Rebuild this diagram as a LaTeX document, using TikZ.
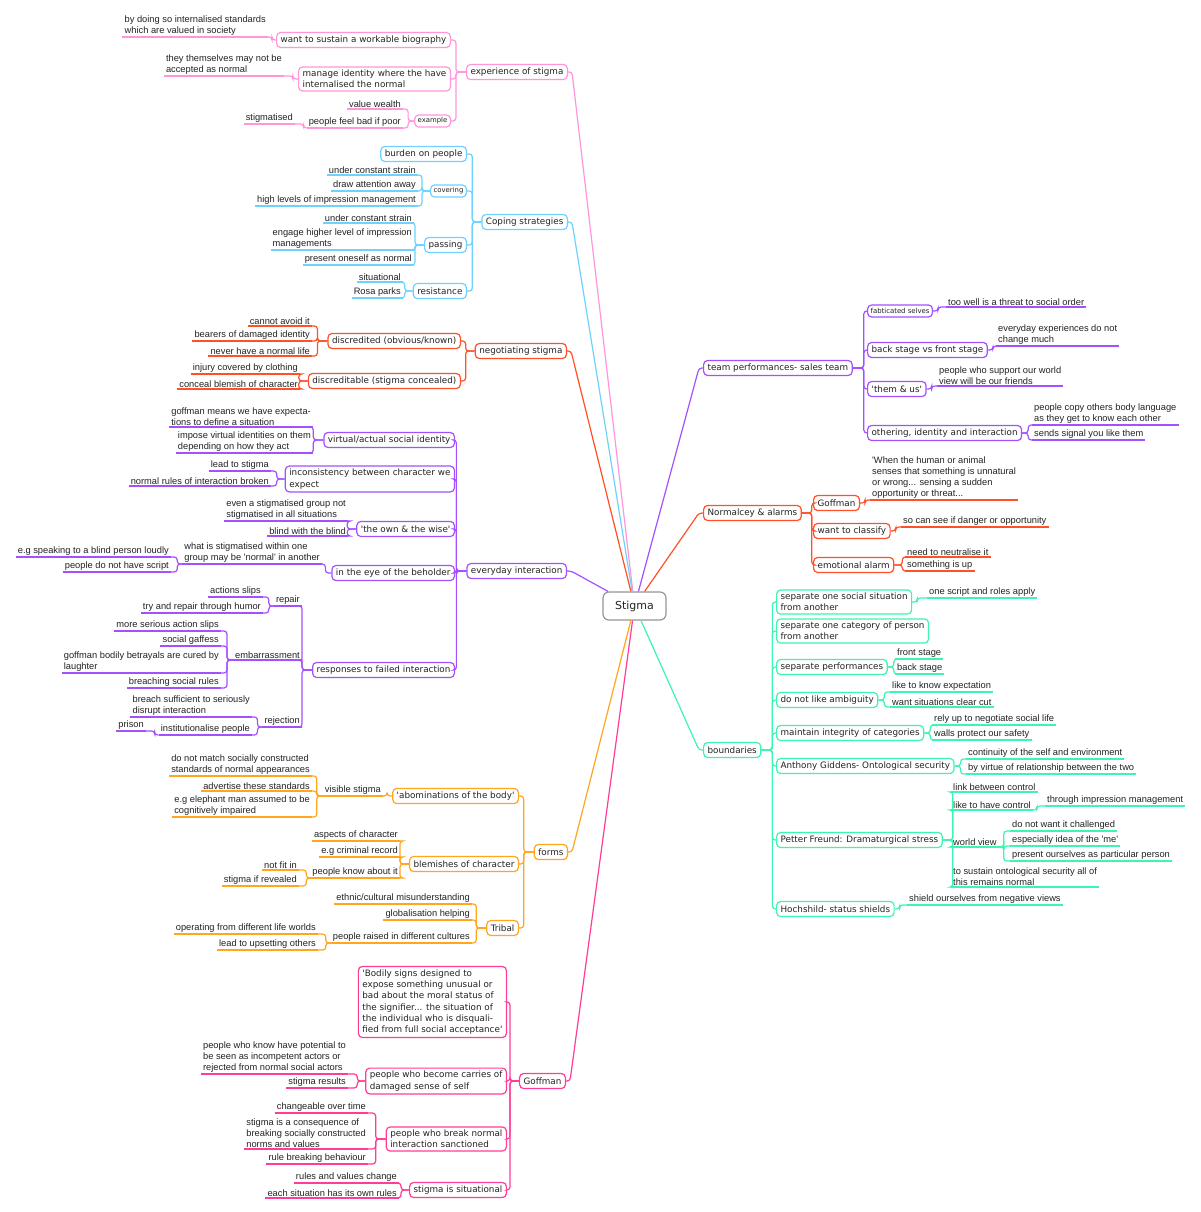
\documentclass[tikz,border=0pt]{standalone}
\usepackage{fontspec}
\newfontfamily\boxfont{DejaVu Sans}
\newfontfamily\leaffont{Liberation Sans}
\usepackage{xcolor}
\definecolor{mmpink}{RGB}{255,150,220}
\definecolor{mmblue}{RGB}{110,210,255}
\definecolor{mmred}{RGB}{255,80,40}
\definecolor{mmviolet}{RGB}{165,80,255}
\definecolor{mmorange}{RGB}{255,165,30}
\definecolor{mmmagenta}{RGB}{255,60,150}
\definecolor{mmgreen}{RGB}{60,245,175}
\definecolor{mmgray}{RGB}{150,150,150}
\definecolor{mmtext}{RGB}{35,35,35}
\tikzset{
  topic/.style={draw=#1, fill=white, line width=1.2pt, rounded corners=4pt, text=mmtext,
    font=\boxfont\fontsize{8.8pt}{11.3pt}\selectfont, align=left,
    inner xsep=4pt, inner ysep=3pt, minimum height=15pt},
  smalltopic/.style={topic=#1, font=\boxfont\fontsize{6.9pt}{9pt}\selectfont,
    inner xsep=3pt, inner ysep=2pt, minimum height=12pt},
  leaf/.style={font=\leaffont\fontsize{9.3pt}{10.8pt}\selectfont, text=mmtext, align=left,
    inner xsep=2pt, inner ysep=1.5pt,
    append after command={(\tikzlastnode.south west) edge[draw=#1, line width=1.2pt] (\tikzlastnode.south east)}},
  link/.style={draw=#1, line width=1.2pt, rounded corners=3pt},
}

\begin{document}
\begin{tikzpicture}[x=1pt,y=-1pt]
  % Canvas
  \fill[white] (0,0) rectangle (1200,1212);

  % Centre
  \node[draw=mmgray, fill=white, line width=1.2pt, rounded corners=6pt, minimum width=63pt,
    minimum height=28pt, text=mmtext, font=\boxfont\fontsize{11pt}{12pt}\selectfont] (stigma) at (634.5,606) {Stigma};

  % Experience of stigma
  \node[topic=mmpink, anchor=east] (exp) at (568,72) {experience of stigma};
  \node[topic=mmpink, anchor=east] (exp1) at (451,40) {want to sustain a workable biography};
  \node[topic=mmpink, anchor=east] (exp2) at (451,79) {manage identity where the have\\internalised the normal};
  \node[smalltopic=mmpink, anchor=east] (exp3) at (451,121) {example};
  \node[leaf=mmpink, anchor=south east] (exp1a) at (268,37) {by doing so internalised standards\\which are valued in society};
  \node[leaf=mmpink, anchor=south east] (exp2a) at (284,76) {they themselves may not be\\accepted as normal};
  \node[leaf=mmpink, anchor=south east] (exp3a) at (403,109) {value wealth};
  \node[leaf=mmpink, anchor=south east] (exp3b) at (403,128) {people feel bad if poor};
  \node[leaf=mmpink, anchor=south east] (exp3c) at (295,124) {stigmatised};
  \foreach \c in {exp1.east,exp2.east,exp3.east}
    \draw[link=mmpink] (exp.west) -- ++(-10,0) |- (\c);
  \draw[link=mmpink] (exp1.west) -- ++(-4,0) |- (exp1a.south east);
  \draw[link=mmpink] (exp2.west) -- ++(-5,0) |- (exp2a.south east);
  \foreach \c in {exp3a,exp3b}
    \draw[link=mmpink] (exp3.west) -- ++(-6,0) |- (\c.south east);
  \draw[link=mmpink] (exp3b.south west) -- ++(-3,0) |- (exp3c.south east);
  \draw[link=mmpink] (exp.east) -- ++(4,0) -- (stigma);

  % Coping strategies
  \node[topic=mmblue, anchor=east] (cope) at (568,222) {Coping strategies};
  \node[topic=mmblue, anchor=east] (cope1) at (467,154) {burden on people};
  \node[smalltopic=mmblue, anchor=east] (cope2) at (467,191) {covering};
  \node[topic=mmblue, anchor=east] (cope3) at (467,245) {passing};
  \node[topic=mmblue, anchor=east] (cope4) at (467,291) {resistance};
  \node[leaf=mmblue, anchor=south east] (cope2a) at (418,175) {under constant strain};
  \node[leaf=mmblue, anchor=south east] (cope2b) at (418,191) {draw attention away};
  \node[leaf=mmblue, anchor=south east] (cope2c) at (418,206) {high levels of impression management};
  \node[leaf=mmblue, anchor=south east] (cope3a) at (414,223) {under constant strain};
  \node[leaf=mmblue, anchor=south east] (cope3b) at (414,250) {engage higher level of impression\\managements};
  \node[leaf=mmblue, anchor=south east] (cope3c) at (414,265) {present oneself as normal};
  \node[leaf=mmblue, anchor=south east] (cope4a) at (403,282) {situational};
  \node[leaf=mmblue, anchor=south east] (cope4b) at (403,298) {Rosa parks};
  \foreach \c in {cope1,cope2,cope3,cope4}
    \draw[link=mmblue] (cope.west) -- ++(-9,0) |- (\c.east);
  \foreach \c in {cope2a,cope2b,cope2c}
    \draw[link=mmblue] (cope2.west) -- ++(-8,0) |- (\c.south east);
  \foreach \c in {cope3a,cope3b,cope3c}
    \draw[link=mmblue] (cope3.west) -- ++(-9,0) |- (\c.south east);
  \foreach \c in {cope4a,cope4b}
    \draw[link=mmblue] (cope4.west) -- ++(-8,0) |- (\c.south east);
  \draw[link=mmblue] (cope.east) -- ++(4,0) -- (stigma);

  % Negotiating stigma
  \node[topic=mmred, anchor=east] (nego) at (567,351) {negotiating stigma};
  \node[topic=mmred, anchor=east] (nego1) at (461,341) {discredited (obvious/known)};
  \node[topic=mmred, anchor=east] (nego2) at (461,381) {discreditable (stigma concealed)};
  \node[leaf=mmred, anchor=south east] (nego1a) at (312,326) {cannot avoid it};
  \node[leaf=mmred, anchor=south east] (nego1b) at (312,341) {bearers of damaged identity};
  \node[leaf=mmred, anchor=south east] (nego1c) at (312,356) {never have a normal life};
  \node[leaf=mmred, anchor=south east] (nego2a) at (300,374) {injury covered by clothing};
  \node[leaf=mmred, anchor=south east] (nego2b) at (300,389) {conceal blemish of character};
  \foreach \c in {nego1,nego2}
    \draw[link=mmred] (nego.west) -- ++(-9,0) |- (\c.east);
  \foreach \c in {nego1a,nego1b,nego1c}
    \draw[link=mmred] (nego1.west) -- ++(-10,0) |- (\c.south east);
  \foreach \c in {nego2a,nego2b}
    \draw[link=mmred] (nego2.west) -- ++(-9,0) |- (\c.south east);
  \draw[link=mmred] (nego.east) -- ++(4,0) -- (stigma);

  % Everyday interaction
  \node[topic=mmviolet, anchor=east] (every) at (567,571) {everyday interaction};
  \node[topic=mmviolet, anchor=east] (every1) at (455,440) {virtual/actual social identity};
  \node[topic=mmviolet, anchor=east] (every2) at (455,479) {inconsistency between character we\\expect};
  \node[topic=mmviolet, anchor=east] (every3) at (455,529) {'the own \& the wise'};
  \node[topic=mmviolet, anchor=east] (every4) at (455,573) {in the eye of the beholder};
  \node[topic=mmviolet, anchor=east] (every5) at (455,670) {responses to failed interaction};
  \node[leaf=mmviolet, anchor=south east] (every1a) at (313,427) {goffman means we have expecta-\\tions to define a situation};
  \node[leaf=mmviolet, anchor=south east] (every1b) at (313,453) {impose virtual identities on them\\depending on how they act};
  \node[leaf=mmviolet, anchor=south east] (every2a) at (271,471) {lead to stigma};
  \node[leaf=mmviolet, anchor=south east] (every2b) at (271,486) {normal rules of interaction broken};
  \node[leaf=mmviolet, anchor=south east] (every3a) at (348,521) {even a stigmatised group not\\stigmatised in all situations};
  \node[leaf=mmviolet, anchor=south east] (every3b) at (348,536) {blind with the blind};
  \node[leaf=mmviolet, anchor=south east] (every4a) at (322,564) {what is stigmatised within one\\group may be 'normal' in another};
  \node[leaf=mmviolet, anchor=south east] (every4b) at (171,557) {e.g speaking to a blind person loudly};
  \node[leaf=mmviolet, anchor=south east] (every4c) at (171,572) {people do not have script};
  \node[leaf=mmviolet, anchor=south east] (rep) at (302,606) {repair};
  \node[leaf=mmviolet, anchor=south east] (emb) at (302,660) {embarrassment};
  \node[leaf=mmviolet, anchor=south east] (rej) at (302,727) {rejection};
  \node[leaf=mmviolet, anchor=south east] (rep1) at (263,597) {actions slips};
  \node[leaf=mmviolet, anchor=south east] (rep2) at (263,613) {try and repair through humor};
  \node[leaf=mmviolet, anchor=south east] (emb1) at (221,631) {more serious action slips};
  \node[leaf=mmviolet, anchor=south east] (emb2) at (221,646) {social gaffess};
  \node[leaf=mmviolet, anchor=south east] (emb3) at (221,673) {goffman bodily betrayals are cured by\\laughter};
  \node[leaf=mmviolet, anchor=south east] (emb4) at (221,688) {breaching social rules};
  \node[leaf=mmviolet, anchor=south east] (rej1) at (252,717) {breach sufficient to seriously\\disrupt interaction};
  \node[leaf=mmviolet, anchor=south east] (rej2) at (252,735) {institutionalise people};
  \node[leaf=mmviolet, anchor=south east] (rej2a) at (146,731) {prison};
  \foreach \c in {every1,every2,every3,every4,every5}
    \draw[link=mmviolet] (every.west) -- ++(-10,0) |- (\c.east);
  \foreach \c in {every1a,every1b}
    \draw[link=mmviolet] (every1.west) -- ++(-10,0) |- (\c.south east);
  \foreach \c in {every2a,every2b}
    \draw[link=mmviolet] (every2.west) -- ++(-8,0) |- (\c.south east);
  \foreach \c in {every3a,every3b}
    \draw[link=mmviolet] (every3.west) -- ++(-9,0) |- (\c.south east);
  \draw[link=mmviolet] (every4.west) -- ++(-6,0) |- (every4a.south east);
  \foreach \c in {every4b,every4c}
    \draw[link=mmviolet] (every4a.south west) -- ++(-5,0) |- (\c.south east);
  \foreach \c in {rep,emb,rej}
    \draw[link=mmviolet] (every5.west) -- ++(-10,0) |- (\c.south east);
  \foreach \c in {rep1,rep2}
    \draw[link=mmviolet] (rep.south west) -- ++(-5,0) |- (\c.south east);
  \foreach \c in {emb1,emb2,emb3,emb4}
    \draw[link=mmviolet] (emb.south west) -- ++(-6,0) |- (\c.south east);
  \foreach \c in {rej1,rej2}
    \draw[link=mmviolet] (rej.south west) -- ++(-5,0) |- (\c.south east);
  \draw[link=mmviolet] (rej2.south west) -- ++(-4,0) |- (rej2a.south east);
  \draw[link=mmviolet] (every.east) -- ++(4,0) -- (stigma);

  % Forms
  \node[topic=mmorange, anchor=east] (forms) at (568,852) {forms};
  \node[topic=mmorange, anchor=east] (forms1) at (519,796) {'abominations of the body'};
  \node[topic=mmorange, anchor=east] (forms2) at (519,864) {blemishes of character};
  \node[topic=mmorange, anchor=east] (forms3) at (519,928) {Tribal};
  \node[leaf=mmorange, anchor=south east] (vis) at (383,796) {visible stigma};
  \node[leaf=mmorange, anchor=south east] (vis1) at (312,776) {do not match socially constructed\\standards of normal appearances};
  \node[leaf=mmorange, anchor=south east] (vis2) at (312,791) {advertise these standards};
  \node[leaf=mmorange, anchor=south east] (vis3) at (312,817) {e.g elephant man assumed to be\\cognitively impaired};
  \node[leaf=mmorange, anchor=south east] (blem1) at (400,841) {aspects of character};
  \node[leaf=mmorange, anchor=south east] (blem2) at (400,857) {e.g criminal record};
  \node[leaf=mmorange, anchor=south east] (blem3) at (400,878) {people know about it};
  \node[leaf=mmorange, anchor=south east] (blem3a) at (299,870) {not fit in};
  \node[leaf=mmorange, anchor=south east] (blem3b) at (299,886) {stigma if revealed};
  \node[leaf=mmorange, anchor=south east] (trib1) at (472,904) {ethnic/cultural misunderstanding};
  \node[leaf=mmorange, anchor=south east] (trib2) at (472,920) {globalisation helping};
  \node[leaf=mmorange, anchor=south east] (trib3) at (472,943) {people raised in different cultures};
  \node[leaf=mmorange, anchor=south east] (trib3a) at (318,934) {operating from different life worlds};
  \node[leaf=mmorange, anchor=south east] (trib3b) at (318,950) {lead to upsetting others};
  \foreach \c in {forms1,forms2,forms3}
    \draw[link=mmorange] (forms.west) -- ++(-10,0) |- (\c.east);
  \draw[link=mmorange] (forms1.west) -- ++(-5,0) |- (vis.south east);
  \foreach \c in {vis1,vis2,vis3}
    \draw[link=mmorange] (vis.south west) -- ++(-6,0) |- (\c.south east);
  \foreach \c in {blem1,blem2,blem3}
    \draw[link=mmorange] (forms2.west) -- ++(-9,0) |- (\c.south east);
  \foreach \c in {blem3a,blem3b}
    \draw[link=mmorange] (blem3.south west) -- ++(-4,0) |- (\c.south east);
  \foreach \c in {trib1,trib2,trib3}
    \draw[link=mmorange] (forms3.west) -- ++(-10,0) |- (\c.south east);
  \foreach \c in {trib3a,trib3b}
    \draw[link=mmorange] (trib3.south west) -- ++(-5,0) |- (\c.south east);
  \draw[link=mmorange] (forms.east) -- ++(4,0) -- (stigma);

  % Goffman (left)
  \node[topic=mmmagenta, anchor=east] (goff) at (566,1081) {Goffman};
  \node[topic=mmmagenta, anchor=east] (goff1) at (507,1002) {'Bodily signs designed to\\expose something unusual or\\bad about the moral status of\\the signifier... the situation of\\the individual who is disquali-\\fied from full social acceptance'};
  \node[topic=mmmagenta, anchor=east] (goff2) at (507,1081) {people who become carries of\\damaged sense of self};
  \node[topic=mmmagenta, anchor=east] (goff3) at (507,1139) {people who break normal\\interaction sanctioned};
  \node[topic=mmmagenta, anchor=east] (goff4) at (507,1190) {stigma is situational};
  \node[leaf=mmmagenta, anchor=south east] (goff2a) at (348,1074) {people who know have potential to\\be seen as incompetent actors or\\rejected from normal social actors};
  \node[leaf=mmmagenta, anchor=south east] (goff2b) at (348,1088) {stigma results};
  \node[leaf=mmmagenta, anchor=south east] (goff3a) at (368,1113) {changeable over time};
  \node[leaf=mmmagenta, anchor=south east] (goff3b) at (368,1149) {stigma is a consequence of\\breaking socially constructed\\norms and values};
  \node[leaf=mmmagenta, anchor=south east] (goff3c) at (368,1164) {rule breaking behaviour};
  \node[leaf=mmmagenta, anchor=south east] (goff4a) at (399,1183) {rules and values change};
  \node[leaf=mmmagenta, anchor=south east] (goff4b) at (399,1198) {each situation has its own rules};
  \foreach \c in {goff1,goff2,goff3,goff4}
    \draw[link=mmmagenta] (goff.west) -- ++(-9,0) |- (\c.east);
  \foreach \c in {goff2a,goff2b}
    \draw[link=mmmagenta] (goff2.west) -- ++(-8,0) |- (\c.south east);
  \foreach \c in {goff3a,goff3b,goff3c}
    \draw[link=mmmagenta] (goff3.west) -- ++(-10,0) |- (\c.south east);
  \foreach \c in {goff4a,goff4b}
    \draw[link=mmmagenta] (goff4.west) -- ++(-8,0) |- (\c.south east);
  \draw[link=mmmagenta] (goff.east) -- ++(4,0) -- (stigma);

  % Team performances
  \node[topic=mmviolet, anchor=west] (team) at (703,368) {team performances- sales team};
  \node[smalltopic=mmviolet, anchor=west] (team1) at (867,311) {fabticated selves};
  \node[topic=mmviolet, anchor=west] (team2) at (867,350) {back stage vs front stage};
  \node[topic=mmviolet, anchor=west] (team3) at (867,389) {'them \& us'};
  \node[topic=mmviolet, anchor=west] (team4) at (867,433) {othering, identity and interaction};
  \node[leaf=mmviolet, anchor=south west] (team1a) at (946,307) {too well is a threat to social order};
  \node[leaf=mmviolet, anchor=south west] (team2a) at (996,346) {everyday experiences do not\\change much};
  \node[leaf=mmviolet, anchor=south west] (team3a) at (937,386) {people who support our world\\view will be our friends};
  \node[leaf=mmviolet, anchor=south west] (team4a) at (1032,425) {people copy others body language\\as they get to know each other};
  \node[leaf=mmviolet, anchor=south west] (team4b) at (1032,440) {sends signal you like them};
  \foreach \c in {team1,team2,team3,team4}
    \draw[link=mmviolet] (team.east) -- ++(11,0) |- (\c.west);
  \draw[link=mmviolet] (team1.east) -- ++(5,0) |- (team1a.south west);
  \draw[link=mmviolet] (team2.east) -- ++(5,0) |- (team2a.south west);
  \draw[link=mmviolet] (team3.east) -- ++(5,0) |- (team3a.south west);
  \foreach \c in {team4a,team4b}
    \draw[link=mmviolet] (team4.east) -- ++(6,0) |- (\c.south west);
  \draw[link=mmviolet] (team.west) -- ++(-4,0) -- (stigma);

  % Normalcey & alarms
  \node[topic=mmred, anchor=west] (norm) at (703,513) {Normalcey \& alarms};
  \node[topic=mmred, anchor=west] (norm1) at (813,503) {Goffman};
  \node[topic=mmred, anchor=west] (norm2) at (813,531) {want to classify};
  \node[topic=mmred, anchor=west] (norm3) at (813,565) {emotional alarm};
  \node[leaf=mmred, anchor=south west] (norm1a) at (870,500) {'When the human or animal\\senses that something is unnatural\\or wrong... sensing a sudden\\opportunity or threat...};
  \node[leaf=mmred, anchor=south west] (norm2a) at (901,527) {so can see if danger or opportunity};
  \node[leaf=mmred, anchor=south west] (norm3a) at (905,557) {need to neutralise it};
  \node[leaf=mmred, anchor=south west] (norm3b) at (905,571) {something is up};
  \foreach \c in {norm1,norm2,norm3}
    \draw[link=mmred] (norm.east) -- ++(10,0) |- (\c.west);
  \draw[link=mmred] (norm1.east) -- ++(5,0) |- (norm1a.south west);
  \draw[link=mmred] (norm2.east) -- ++(5,0) |- (norm2a.south west);
  \foreach \c in {norm3a,norm3b}
    \draw[link=mmred] (norm3.east) -- ++(8,0) |- (\c.south west);
  \draw[link=mmred] (norm.west) -- ++(-4,0) -- (stigma);

  % Boundaries
  \node[topic=mmgreen, anchor=west] (bound) at (703,750) {boundaries};
  \node[topic=mmgreen, anchor=west] (bound1) at (776,602) {separate one social situation\\from another};
  \node[topic=mmgreen, anchor=west] (bound2) at (776,631) {separate one category of person\\from another};
  \node[topic=mmgreen, anchor=west] (bound3) at (776,667) {separate performances};
  \node[topic=mmgreen, anchor=west] (bound4) at (776,700) {do not like ambiguity};
  \node[topic=mmgreen, anchor=west] (bound5) at (776,733) {maintain integrity of categories};
  \node[topic=mmgreen, anchor=west] (bound6) at (776,766) {Anthony Giddens- Ontological security};
  \node[topic=mmgreen, anchor=west] (bound7) at (776,840) {Petter Freund: Dramaturgical stress};
  \node[topic=mmgreen, anchor=west] (bound8) at (776,909) {Hochshild- status shields};
  \node[leaf=mmgreen, anchor=south west] (bound1a) at (927,598) {one script and roles apply};
  \node[leaf=mmgreen, anchor=south west] (bound3a) at (895,659) {front stage};
  \node[leaf=mmgreen, anchor=south west] (bound3b) at (895,674) {back stage};
  \node[leaf=mmgreen, anchor=south west] (bound4a) at (890,692) {like to know expectation};
  \node[leaf=mmgreen, anchor=south west] (bound4b) at (890,707) {want situations clear cut};
  \node[leaf=mmgreen, anchor=south west] (bound5a) at (932,725) {rely up to negotiate social life};
  \node[leaf=mmgreen, anchor=south west] (bound5b) at (932,740) {walls protect our safety};
  \node[leaf=mmgreen, anchor=south west] (bound6a) at (966,759) {continuity of the self and environment};
  \node[leaf=mmgreen, anchor=south west] (bound6b) at (966,774) {by virtue of relationship between the two};
  \node[leaf=mmgreen, anchor=south west] (fre1) at (951,792) {link between control};
  \node[leaf=mmgreen, anchor=south west] (fre2) at (951,810) {like to have control};
  \node[leaf=mmgreen, anchor=south west] (fre3) at (951,847) {world view};
  \node[leaf=mmgreen, anchor=south west] (fre4) at (951,887) {to sustain ontological security all of\\this remains normal};
  \node[leaf=mmgreen, anchor=south west] (fre2a) at (1045,806) {through impression management};
  \node[leaf=mmgreen, anchor=south west] (fre3a) at (1010,831) {do not want it challenged};
  \node[leaf=mmgreen, anchor=south west] (fre3b) at (1010,846) {especially idea of the 'me'};
  \node[leaf=mmgreen, anchor=south west] (fre3c) at (1010,861) {present ourselves as particular person};
  \node[leaf=mmgreen, anchor=south west] (bound8a) at (907,905) {shield ourselves from negative views};
  \foreach \c in {bound1,bound2,bound3,bound4,bound5,bound6,bound7,bound8}
    \draw[link=mmgreen] (bound.east) -- ++(11,0) |- (\c.west);
  \draw[link=mmgreen] (bound1.east) -- ++(5,0) |- (bound1a.south west);
  \foreach \c in {bound3a,bound3b}
    \draw[link=mmgreen] (bound3.east) -- ++(6,0) |- (\c.south west);
  \foreach \c in {bound4a,bound4b}
    \draw[link=mmgreen] (bound4.east) -- ++(6,0) |- (\c.south west);
  \foreach \c in {bound5a,bound5b}
    \draw[link=mmgreen] (bound5.east) -- ++(6,0) |- (\c.south west);
  \foreach \c in {bound6a,bound6b}
    \draw[link=mmgreen] (bound6.east) -- ++(6,0) |- (\c.south west);
  \foreach \c in {fre1,fre2,fre3,fre4}
    \draw[link=mmgreen] (bound7.east) -- ++(10,0) |- (\c.south west);
  \draw[link=mmgreen] (fre2.south east) -- ++(4,0) |- (fre2a.south west);
  \foreach \c in {fre3a,fre3b,fre3c}
    \draw[link=mmgreen] (fre3.south east) -- ++(5,0) |- (\c.south west);
  \draw[link=mmgreen] (bound8.east) -- ++(5,0) |- (bound8a.south west);
  \draw[link=mmgreen] (bound.west) -- ++(-4,0) -- (stigma);
\end{tikzpicture}
\end{document}
